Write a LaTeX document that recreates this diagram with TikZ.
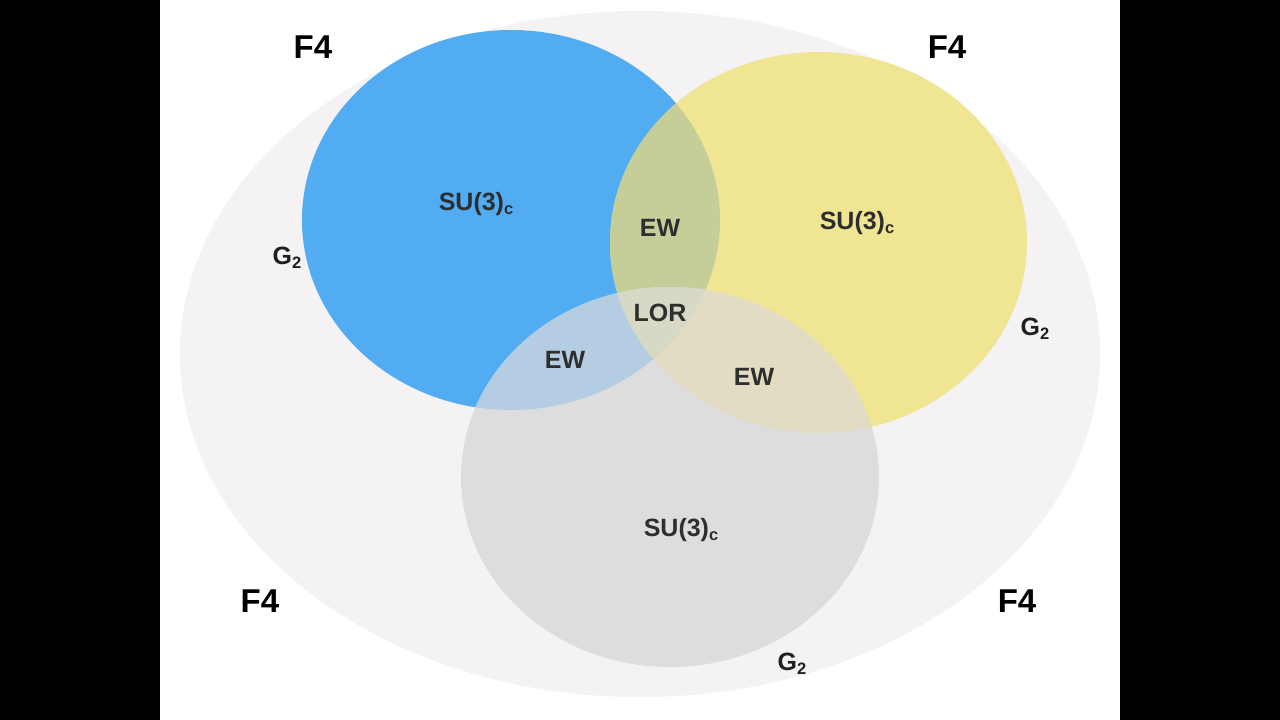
\documentclass[tikz,border=0pt]{standalone}
\usepackage{fontspec}
\setmainfont{Liberation Sans}
\definecolor{bigE}{HTML}{F4F2F3}
\definecolor{cblue}{HTML}{52ACF2}
\definecolor{cyellow}{HTML}{F0E592}
\definecolor{cgray}{HTML}{DEDDDE}
\definecolor{cBY}{HTML}{C5CE98}
\definecolor{cBG}{HTML}{B5CDE2}
\definecolor{cYG}{HTML}{E2DCC4}
\definecolor{cBYG}{HTML}{D8D8C6}
\definecolor{lbl}{HTML}{2E2E2E}
\newcommand{\sbs}[1]{{\fontsize{16.5}{16.5}\selectfont\raisebox{-4pt}{#1}}}
\tikzset{
  inlbl/.style={font=\bfseries\fontsize{25}{25}\selectfont, text=lbl, inner sep=0pt},
  glbl/.style={font=\bfseries\fontsize{25}{25}\selectfont, text=black!88, inner sep=0pt},
  flbl/.style={font=\bfseries\fontsize{33}{33}\selectfont, text=black, inner sep=0pt}
}
\def\Bpath{(511,220) ellipse [x radius=209, y radius=190]}
\def\Ypath{(818.5,242.5) ellipse [x radius=208.5, y radius=190.5]}
\def\Gpath{(670,477) ellipse [x radius=209, y radius=190]}
\begin{document}
\begin{tikzpicture}[x=1pt,y=-1pt]
\useasboundingbox (0,0) rectangle (1280,720);
\fill[black] (0,0) rectangle (1280,720);
\fill[white] (160,0) rectangle (1120,720);
\fill[bigE] (640,354) ellipse [x radius=460, y radius=343];
\fill[cblue] \Bpath;
\fill[cyellow] \Ypath;
\fill[cgray] \Gpath;
\begin{scope}
  \clip \Bpath;
  \fill[cBY] \Ypath;
  \fill[cBG] \Gpath;
  \clip \Ypath;
  \fill[cBYG] \Gpath;
\end{scope}
\begin{scope}
  \clip \Ypath;
  \clip \Gpath;
  \fill[cYG] (0,0) rectangle (1280,720);
  \clip \Bpath;
  \fill[cBYG] (0,0) rectangle (1280,720);
\end{scope}
% labels
\node[inlbl] (su1) at (476,204) {SU(3)\sbs{c}};
\node[inlbl] (su2) at (857,223) {SU(3)\sbs{c}};
\node[inlbl] (su3) at (681,530) {SU(3)\sbs{c}};
\node[inlbl] (ewt) at (660,228) {EW};
\node[inlbl] (ewl) at (565,360) {EW};
\node[inlbl] (ewr) at (754,377) {EW};
\node[inlbl] (lor) at (660,313) {LOR};
\node[glbl] (g1) at (287,258) {G\sbs{2}};
\node[glbl] (g2) at (1035,329) {G\sbs{2}};
\node[glbl] (g3) at (792,664) {G\sbs{2}};
\node[flbl] (f1) at (313,47) {F4};
\node[flbl] (f2) at (947,47) {F4};
\node[flbl] (f3) at (260,601) {F4};
\node[flbl] (f4) at (1017,601) {F4};
\end{tikzpicture}
\end{document}
